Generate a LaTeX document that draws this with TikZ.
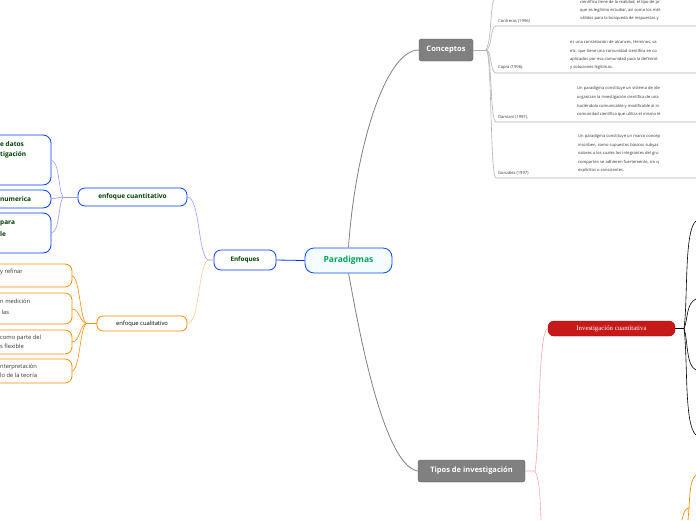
\documentclass[tikz,border=0pt]{standalone}
\usepackage{fontspec}
\setmainfont{Open Sans}
\newfontfamily\serifx{Liberation Serif}
\begin{document}
\begin{tikzpicture}[x=1pt,y=-1pt,
 grayb/.style={draw=gray!70!black,fill=gray!75!black!80,text=white,rounded corners=2.5pt,font=\bfseries\fontsize{7.5}{9}\selectfont,inner sep=0pt},
 blueb/.style={draw=blue!75!cyan,line width=0.8pt,rounded corners=8pt,fill=white},
 orab/.style={draw=orange!90!yellow,line width=0.8pt,rounded corners=7pt,fill=white},
 btxt/.style={font=\bfseries\fontsize{6.5}{7.5}\selectfont,text=green!25!black,inner sep=0pt,anchor=west},
 otxt/.style={font=\fontsize{5.8}{6.5}\selectfont,text=black!80,inner sep=0pt,anchor=west},
 ctxt/.style={font=\fontsize{4.1}{4.8}\selectfont,text=black!80,inner sep=0pt,anchor=west},
 rowline/.style={draw=gray!60,line width=0.6pt}]
\useasboundingbox (0,0) rectangle (696,520);
\clip (0,0) rectangle (696,520);
\fill[white] (0,0) rectangle (696,520);
% main nodes
\node[draw=blue!70!cyan,line width=0.8pt,fill=cyan!4,rounded corners=9pt,minimum width=87pt,minimum height=25pt,text=teal!70!green,font=\bfseries\fontsize{8.5}{9}\selectfont] (par) at (348.5,260.5) {Paradigmas};
\node[draw=blue!75!cyan,line width=0.8pt,fill=white,rounded corners=7pt,minimum width=62pt,minimum height=20pt,font=\bfseries\fontsize{6.3}{7}\selectfont,text=green!25!black] (enf) at (245,260) {Enfoques};
\node[grayb,minimum width=54pt,minimum height=22pt] (con) at (446,50) {Conceptos};
\node[grayb,minimum width=107pt,minimum height=22pt] (tip) at (471.5,471) {Tipos de investigación};
\node[draw=red!70!black,fill=red!75!black!90,text=white,rounded corners=6pt,minimum width=127pt,minimum height=15pt,inner sep=0pt,font=\serifx\fontsize{6.8}{7}\selectfont] (icu) at (611.5,328.5) {Investigación cuantitativa};
\node[draw=blue!75!cyan,line width=0.8pt,fill=white,rounded corners=7pt,minimum width=109pt,minimum height=18pt,font=\bfseries\fontsize{6.5}{7}\selectfont,text=green!25!black,inner sep=0pt] (ecu) at (132.5,197) {enfoque cuantitativo};
\node[draw=orange!90!yellow,line width=0.8pt,fill=white,rounded corners=6pt,minimum width=90pt,minimum height=15pt,font=\fontsize{5.8}{6.5}\selectfont,inner sep=0pt] (ecl) at (142,323.5) {enfoque cualitativo};
% connectors main
\draw[blue!80!cyan,line width=0.8pt] (enf.east) -- (par.west);
\draw[gray,line width=0.8pt] (par.north) .. controls (355,150) and (385,50) .. (con.west);
\draw[gray,line width=0.8pt] (par.south) .. controls (354,300) and (380,465) .. (tip.west);
\draw[blue!40,line width=0.6pt] (enf.west) -- (208,260) .. controls (198,255) and (200,198) .. (ecu.east);
\draw[orange!40,line width=0.6pt] (enf.west) -- (208,260) .. controls (198,265) and (200,323) .. (ecl.east);
\draw[red!35,line width=0.6pt] (tip.east) -- (535,471) .. controls (540,440) and (538,330) .. (icu.west);
\draw[red!35,line width=0.6pt] (535,471) .. controls (540,480) and (540,500) .. (541,520);
% black brackets
\coordinate (bk) at (684,328.5);
\draw[black,line width=0.6pt] (icu.east) -- (bk);
\draw[black,line width=0.6pt] (bk) .. controls (688,300) and (684,230) .. (696,221);
\draw[black,line width=0.6pt] (bk) .. controls (688,360) and (684,425) .. (696,435);
\draw[black,line width=0.6pt] (bk) .. controls (688,320) and (686,303) .. (696,299);
\draw[black,line width=0.6pt] (bk) .. controls (688,340) and (686,366) .. (696,370);
% orange bottom right
\draw[orange!90!yellow,line width=0.7pt] (688,520) .. controls (690,500) and (689,480) .. (696,475);
\draw[orange!90!yellow,line width=0.7pt] (682,520) .. controls (684,510) and (686,508) .. (690,508);
% blue left boxes
\draw[blueb] (-20,135) rectangle (51,185);
\draw[blueb] (-20,190) rectangle (51,208);
\draw[blueb] (-20,213) rectangle (51,253);
\coordinate (lb) at (63,197);
\node[btxt] at (0,144) {e datos};
\node[btxt] at (0,155) {tigación};
\node[btxt] at (0,199.5) {numerica};
\node[btxt] at (0,223) {para};
\node[btxt] at (0,234) {le};
\draw[blue!40,line width=0.6pt] (ecu.west) -- (lb);
\draw[blue!40,line width=0.6pt] (lb) .. controls (58,190) and (60,162) .. (51,160);
\draw[blue!40,line width=0.6pt] (lb) -- (51,199);
\draw[blue!40,line width=0.6pt] (lb) .. controls (58,205) and (60,232) .. (51,233);
% orange left boxes
\draw[orab] (-20,264) rectangle (72,287);
\draw[orab] (-20,293) rectangle (72,324);
\draw[orab] (-20,330) rectangle (72,354);
\draw[orab] (-20,359) rectangle (72,383);
\node[otxt] at (0,272) {y refinar};
\node[otxt] at (0,301) {n medición};
\node[otxt] at (0,312) {\ las};
\node[otxt] at (0,338) {como parte del};
\node[otxt] at (0,346.5) {s flexible};
\node[otxt] at (0,367) {nterpretación};
\node[otxt] at (0,375.5) {lo de la teoría};
\coordinate (lo) at (87,323.5);
\draw[orange!90!yellow,line width=0.6pt] (ecl.west) -- (lo);
\foreach \yy in {276,309,342,371}{
 \draw[orange!90!yellow,line width=0.6pt] (lo) .. controls (80,323.5) and (80,\yy) .. (72,\yy);}
% concepts rows
\coordinate (cb) at (486,50);
\draw[gray!60,line width=0.6pt] (con.east) -- (cb);
\foreach \yy/\lab in {26/Contreras (1996),73/Capra (1996).,122/Damiani (1997).,178/González (1997)}{
 \draw[rowline] (cb) .. controls (492,50) and (490,\yy) .. (496,\yy) -- (696,\yy);
 \node[ctxt] at (498,\yy-5) {\lab};}
\draw[gray!60,line width=0.6pt] (cb) .. controls (492,40) and (490,5) .. (494,0);
\node[ctxt] at (580,2) {científica tiene de la realidad, el tipo de pr};
\node[ctxt] at (580,10) {que es legítimo estudiar, así como los mét};
\node[ctxt] at (580,18) {válidos para la búsqueda de respuestas y};
\node[ctxt] at (570,42) {es una constelación de alcances, términos, va};
\node[ctxt] at (570,51) {etc. que tiene una comunidad científica en co};
\node[ctxt] at (570,59) {aplicados por esa comunidad para la definició};
\node[ctxt] at (570,67) {y soluciones legítimas.};
\node[ctxt] at (577,88) {Un paradigma constituye un sistema de ide};
\node[ctxt] at (577,97) {organizan la investigación científica de una};
\node[ctxt] at (577,106) {haciéndola comunicable y modificable al in};
\node[ctxt] at (577,114) {comunidad científica que utiliza el mismo le};
\node[ctxt] at (578,136) {Un paradigma constituye un marco concep};
\node[ctxt] at (578,145) {inscriben, como supuestos básicos subyac};
\node[ctxt] at (578,153) {valores a los cuales los integrantes del gru};
\node[ctxt] at (578,162) {comparten se adhieren fuertemente, sin q};
\node[ctxt] at (578,170) {explícitos o conscientes.};
\end{tikzpicture}
\end{document}
